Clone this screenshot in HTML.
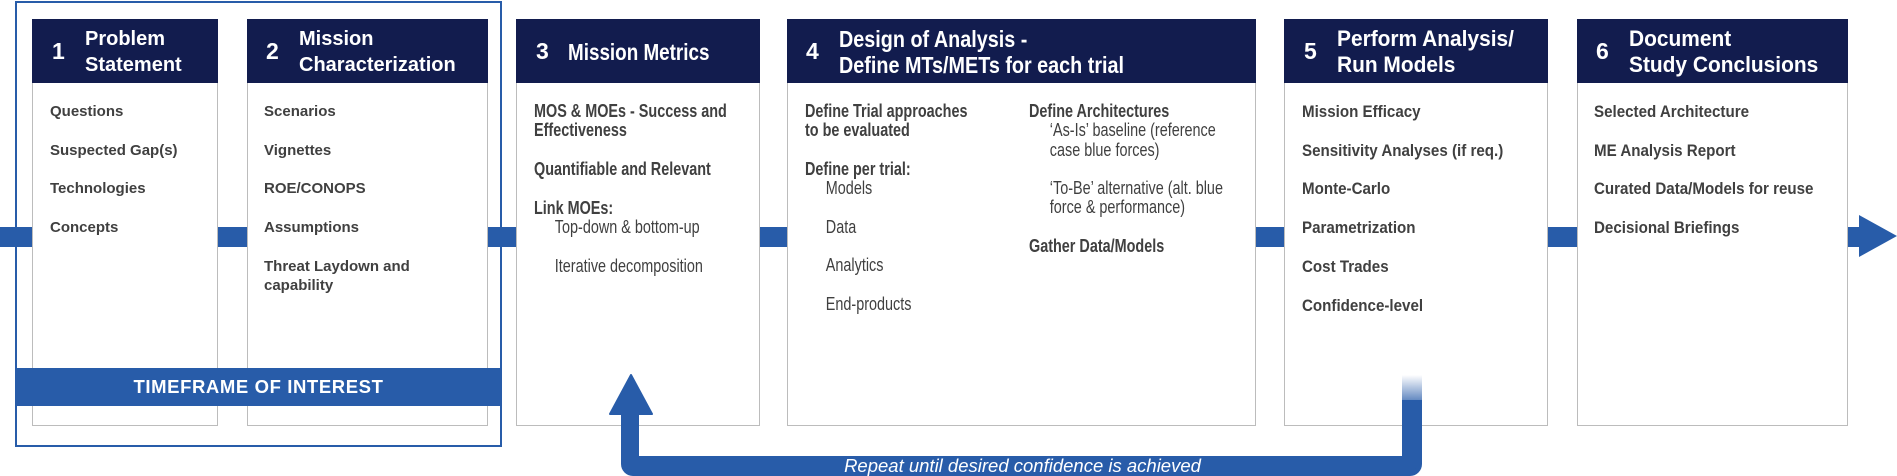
<!DOCTYPE html>
<html><head><meta charset="utf-8"><style>
*{margin:0;padding:0;box-sizing:border-box}
body{width:1897px;height:476px;background:#fff;position:relative;overflow:hidden;font-family:"Liberation Sans",Arial,sans-serif}
.a{position:absolute}
.bar{position:absolute;background:#285ca9}
.box{position:absolute;top:83px;height:343px;border:1px solid #bcbcbc;border-top:none;background:#fff}
.hd{position:absolute;top:19px;height:64px;background:#121c4e;color:#fff;font-weight:bold}
.num{position:absolute;top:19px;font-size:23px;line-height:26px}
.ttl{position:absolute;top:7px;font-size:20px;line-height:26px;white-space:nowrap;transform-origin:left top}
.t{position:absolute;font-size:15px;font-weight:bold;color:#404040;line-height:19.3px;white-space:nowrap;transform-origin:left top}
.n{font-size:18px;transform:scaleX(0.8)}
.i{font-weight:normal;padding-left:26px}
</style></head><body>
<div class="bar" style="left:0;top:227px;width:1862px;height:20px"></div>
<svg class="a" style="left:1855px;top:212px" width="42" height="48"><polygon points="4,3 42,24 4,45" fill="#285ca9"/></svg>
<div class="a" style="left:15px;top:1px;width:487px;height:446px;border:2.5px solid #285ca9"></div>
<div class="box" style="left:32px;width:186px"></div>
<div class="box" style="left:247px;width:241px"></div>
<div class="box" style="left:516px;width:244px"></div>
<div class="box" style="left:787px;width:469px"></div>
<div class="box" style="left:1284px;width:264px"></div>
<div class="box" style="left:1577px;width:271px"></div>
<div class="hd" style="left:32px;width:186px"><div class="num" style="left:20px">1</div><div class="ttl" style="left:53px">Problem<br>Statement</div></div>
<div class="hd" style="left:247px;width:241px"><div class="num" style="left:19px">2</div><div class="ttl" style="left:52px">Mission<br>Characterization</div></div>
<div class="hd" style="left:516px;width:244px"><div class="num" style="left:20px">3</div><div class="ttl" style="left:52px;top:20px;font-size:23px;transform:scaleX(0.82)">Mission Metrics</div></div>
<div class="hd" style="left:787px;width:469px"><div class="num" style="left:19px">4</div><div class="ttl" style="left:52px;font-size:23px;transform:scaleX(0.86)">Design of Analysis -<br>Define MTs/METs for each trial</div></div>
<div class="hd" style="left:1284px;width:264px"><div class="num" style="left:20px">5</div><div class="ttl" style="left:53px;font-size:22px;transform:scaleX(0.95)">Perform Analysis/<br>Run Models</div></div>
<div class="hd" style="left:1577px;width:271px"><div class="num" style="left:19px">6</div><div class="ttl" style="left:52px;font-size:22px;transform:scaleX(0.95)">Document<br>Study Conclusions</div></div>
<div class="t" style="left:50px;top:102px">Questions</div>
<div class="t" style="left:50px;top:141px">Suspected Gap(s)</div>
<div class="t" style="left:50px;top:179px">Technologies</div>
<div class="t" style="left:50px;top:218px">Concepts</div>
<div class="t" style="left:264px;top:102px">Scenarios</div>
<div class="t" style="left:264px;top:141px">Vignettes</div>
<div class="t" style="left:264px;top:179px">ROE/CONOPS</div>
<div class="t" style="left:264px;top:218px">Assumptions</div>
<div class="t" style="left:264px;top:257px">Threat Laydown and<br>capability</div>
<div class="t n" style="left:534px;top:102px">MOS &amp; MOEs - Success and<br>Effectiveness</div>
<div class="t n" style="left:534px;top:160px">Quantifiable and Relevant</div>
<div class="t n" style="left:534px;top:199px">Link MOEs:<br><span class="i">Top-down &amp; bottom-up</span><br><br><span class="i">Iterative decomposition</span></div>
<div class="t n" style="left:805px;top:102px">Define Trial approaches<br>to be evaluated<br><br>Define per trial:<br><span class="i">Models</span><br><br><span class="i">Data</span><br><br><span class="i">Analytics</span><br><br><span class="i">End-products</span></div>
<div class="t n" style="left:1029px;top:102px">Define Architectures<br><span class="i">‘As-Is’ baseline (reference</span><br><span class="i">case blue forces)</span><br><br><span class="i">‘To-Be’ alternative (alt. blue</span><br><span class="i">force &amp; performance)</span><br><br>Gather Data/Models</div>
<div class="t" style="left:1302px;top:93px;font-size:17px;line-height:38.7px;transform:scaleX(0.89)">Mission Efficacy<br>Sensitivity Analyses (if req.)<br>Monte-Carlo<br>Parametrization<br>Cost Trades<br>Confidence-level</div>
<div class="t" style="left:1594px;top:93px;font-size:17px;line-height:38.7px;transform:scaleX(0.89)">Selected Architecture<br>ME Analysis Report<br>Curated Data/Models for reuse<br>Decisional Briefings</div>
<div class="bar" style="left:15px;top:368px;width:487px;height:38px;color:#fff;font-weight:bold;font-size:18.5px;text-align:center;line-height:38px;letter-spacing:0.6px">TIMEFRAME OF INTEREST</div>
<div class="a" style="left:1402px;top:370px;width:20px;height:90px;background:linear-gradient(#fff 0px,#fff 5px,#285ca9 40px)"></div>
<div class="bar" style="left:621px;top:456px;width:801px;height:20px;border-radius:0 0 12px 12px"></div>
<div class="bar" style="left:1402px;top:400px;width:20px;height:70px;border-radius:0 0 12px 0"></div>
<div class="bar" style="left:621px;top:410px;width:18px;height:60px;border-radius:0 0 0 12px"></div>
<svg class="a" style="left:608px;top:373px" width="46" height="42"><polygon points="23,2 44,41 2,41" fill="#285ca9" stroke="#285ca9" stroke-linejoin="round" stroke-width="2"/></svg>
<div class="a" style="left:842px;top:456px;width:361px;height:20px;color:#fff;font-style:italic;font-size:18.5px;line-height:20px;text-align:center;white-space:nowrap">Repeat until desired confidence is achieved</div>
</body></html>
